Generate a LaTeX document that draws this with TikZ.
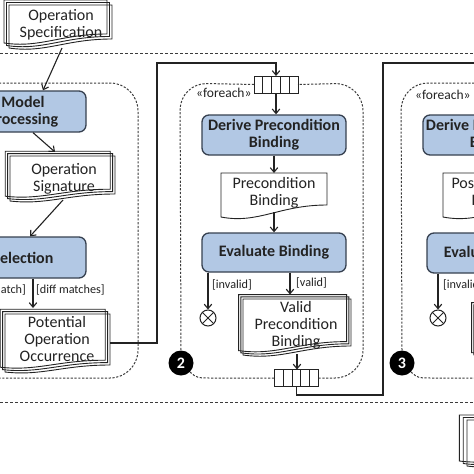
\documentclass[tikz,border=0pt]{standalone}
\usepackage{fontspec}
\setmainfont{Carlito}
\usetikzlibrary{arrows.meta}
\definecolor{boxfill}{RGB}{178,200,228}
\definecolor{boxdraw}{RGB}{55,65,80}
\definecolor{ink}{RGB}{35,35,35}
\definecolor{dashc}{RGB}{60,60,60}
\newcommand\docsheet[5]{\draw[docline] ({#1},{#2}) -- ({#3},{#2}) -- ({#3},{#5}) .. controls ({(#1)+0.55*((#3)-(#1))},{#5}) and ({(#1)+0.35*((#3)-(#1))},{(#4)+0.6*((#4)-(#5))}) .. ({#1},{#4}) -- cycle;}
\newcommand\docstack[7]{\foreach \k in {2,1,0}{\begin{scope}[shift={(-#6*\k,-#7*\k)}]\docsheet{#1}{#2}{#3}{#4}{#5}\end{scope}}}
\begin{document}
\begin{tikzpicture}[x=1pt,y=-1pt,
 act/.style={draw=boxdraw, line width=1.3pt, fill=boxfill, rounded corners=7pt, align=center, font=\fontsize{16}{17}\selectfont\bfseries, text=ink, inner sep=0pt},
 doctext/.style={align=center, font=\fontsize{16}{17}\selectfont, text=ink, inner sep=0pt},
 lbl/.style={font=\fontsize{12.2}{13}\selectfont, text=ink, inner sep=0pt},
 conn/.style={draw=ink, line width=1.1pt},
 arr/.style={conn, -{Straight Barb[length=4.5pt,width=7.5pt]}},
 region/.style={draw=dashc, line width=1pt, dash pattern=on 2.2pt off 1.6pt},
 frame/.style={draw=dashc, line width=1pt, dash pattern=on 3pt off 2pt},
 docline/.style={draw=ink, line width=0.9pt},
 queue/.style={draw=ink, line width=1pt, fill=white, minimum width=44pt, minimum height=17pt, inner sep=0pt, outer sep=0pt},
 finalnode/.style={circle, draw=ink, line width=1pt, minimum size=16pt, inner sep=0pt, fill=white, path picture={\draw[ink, line width=1pt] (path picture bounding box.north west) -- (path picture bounding box.south east) (path picture bounding box.north east) -- (path picture bounding box.south west);}},
 numcirc/.style={circle, fill=black, text=white, minimum size=25pt, inner sep=0pt, font=\fontsize{16}{16}\selectfont\bfseries},
 stereo/.style={font=\fontsize{13.5}{14}\selectfont, text=ink, inner sep=0pt}
]
\useasboundingbox (0,0) rectangle (474,474);
\fill[white] (0,0) rectangle (474,474);
\clip (0,0) rectangle (474,474);

% outer partition frame
\draw[frame] (-10,53) -- (490,53);
\draw[frame] (-10,402) -- (490,402);

% documents
\docstack{9}{5}{112}{48}{39}{2.5}{2.5}
\node[doctext] (opspec) at (61,25) {Operation\\Specification};
\docstack{10}{156}{115}{201}{194}{2.4}{2.4}
\node[doctext] (opsig) at (64,179) {Operation\\Signature};
\docstack{5}{314}{110}{372}{365}{2.4}{2.4}
\node[doctext] (poo) at (57,339) {Potential\\Operation\\Occurrence};
\docsheet{221}{173}{327}{217}{205}
\node[doctext] (pb) at (274,193) {Precondition\\Binding};
\docstack{243}{299}{351}{355}{346}{2.2}{2.2}
\node[doctext] (vpb) at (296,325) {Valid\\Precondition\\Binding};
\docsheet{443}{173}{549}{217}{205}
\node[doctext] (postb) at (496,193) {Postcondition\\Binding};
\docstack{476}{307}{580}{357}{348}{2.2}{2.2}
\docstack{467}{420}{570}{466}{458}{3.8}{2.5}

% action boxes
\node[act, minimum width=126pt, minimum height=41pt] (mp) at (23,111.5) {Model\\Processing};
\node[act, minimum width=126pt, minimum height=41pt] (sel) at (23,257.5) {Selection};
\node[act, minimum width=144pt, minimum height=40pt] (dpb) at (274,135) {Derive Precondition\\Binding};
\node[act, minimum width=144pt, minimum height=39pt] (evb) at (274,252.5) {Evaluate Binding};
\node[act, minimum width=144pt, minimum height=40pt] (dpost) at (495,135) {Derive Postcondition\\Binding};
\node[act, minimum width=144pt, minimum height=40pt] (evpost) at (499,253) {Evaluate Binding};

% expansion nodes
\node[queue] (q1) at (276,84.5) {};
\foreach \i in {1,...,4} \draw[ink, line width=1pt] ([xshift=\i*8.8pt]q1.north west) -- ([xshift=\i*8.8pt]q1.south west);
\node[queue] (q2) at (296.5,378) {};
\foreach \i in {1,...,4} \draw[ink, line width=1pt] ([xshift=\i*8.8pt]q2.north west) -- ([xshift=\i*8.8pt]q2.south west);

% final nodes and numbers
\node[finalnode] (fin2) at (208,318) {};
\node[finalnode] (fin3) at (438,318) {};
\node[numcirc] (n2) at (181,363) {2};
\node[numcirc] (n3) at (402,363) {3};

% foreach regions
\draw[region, rounded corners=28pt] (-20,83) -- (138,83) -- (138,378) -- (-20,378);
\draw[region, rounded corners=27pt] (q1.west) -- (180,83) -- (n2.north);
\draw[region] (n2.south east) .. controls (197,378) .. (212,378) -- (q2.west);
\draw[region, rounded corners=28pt] (q2.east) -- (363,378) -- (363,83) -- (q1.east);
\draw[region, rounded corners=27pt] (n3.north) -- (401,83) -- (490,83);
\draw[region] (n3.south east) .. controls (418,378) .. (432,378) -- (490,378);
\node[stereo, anchor=west] (fe2) at (196,93) {«foreach»};
\node[stereo, anchor=west] (fe3) at (415,95) {«foreach»};

% connector coordinates
\coordinate (opspecOut) at (62,48);
\coordinate (opsigIn) at (55,152);
\coordinate (opsigOut) at (63,200);
\coordinate (pooIn) at (33,308);
\coordinate (pooOut) at (110,343);
\coordinate (bendA) at (157,63);
\coordinate (pbIn) at (274,173);
\coordinate (pbOut) at (274,212);
\coordinate (vpbIn) at (290,294.5);
\coordinate (vpbOut) at (297,354);
\coordinate (bendB) at (383,395);
\coordinate (bendC) at (383,63);
\coordinate (offR) at (490,63);

% connectors
\draw[arr] (opspecOut) -- ([xshift=20pt]mp.north);
\draw[arr] ([xshift=10pt]mp.south) -- (opsigIn);
\draw[arr] (opsigOut) -- ([xshift=7pt]sel.north);
\draw[arr] ([xshift=10pt]sel.south) -- (pooIn);
\draw[arr] (pooOut) -| (bendA) -| (q1.north);
\draw[arr] (q1.south) -- (q1.south |- dpb.north);
\draw[arr] (dpb.south) -- (pbIn);
\draw[arr] (pbOut) -- (evb.north);
\draw[arr] ([xshift=-66pt]evb.south) -- (fin2.north);
\draw[arr] ([xshift=16pt]evb.south) -- (vpbIn);
\draw[arr] (vpbOut) -- (vpbOut |- q2.north);
\draw[conn] (q2.south) |- (bendB) -- (bendC) -- (offR);
\draw[arr] ([xshift=-61pt]evpost.south) -- (fin3.north);

% guard labels
\node[lbl, anchor=east] (g0) at (26,290) {[exact match]};
\node[lbl, anchor=west] (g1) at (36,290) {[diff matches]};
\node[lbl, anchor=west] (g2) at (212,285) {[invalid]};
\node[lbl, anchor=west] (g3) at (296,283) {[valid]};
\node[lbl, anchor=west] (g4) at (443,285) {[invalid]};
\end{tikzpicture}
\end{document}
